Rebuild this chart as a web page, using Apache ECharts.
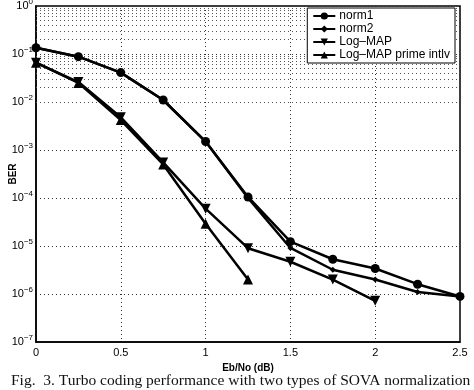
<!DOCTYPE html>
<html><head><meta charset="utf-8">
<script src="https://cdn.jsdelivr.net/npm/echarts@6/dist/echarts.min.js"></script>
<style>html,body{margin:0;padding:0;background:#fff;}#c{width:474px;height:390px;}</style>
</head><body><div id="c"></div>
<script>
const ebno = [0, 0.25, 0.5, 0.75, 1.0, 1.25, 1.5, 1.75, 2.0, 2.25, 2.5];
const norm1 = [0.135, 0.088, 0.041, 0.011, 0.0015, 1.05e-4, 1.23e-5, 5.3e-6, 3.4e-6, 1.6e-6, 8.9e-7];
const norm2 = [0.135, 0.088, 0.041, 0.011, 0.0015, 1.0e-4, 9.1e-6, 3.2e-6, 2.0e-6, 1.1e-6, 8.9e-7];
const logMapX = [0, 0.25, 0.5, 0.75, 1.0, 1.25, 1.5, 1.75, 2.0];
const logMap = [0.066, 0.026, 0.0048, 5.5e-4, 6e-5, 9e-6, 4.7e-6, 2.0e-6, 7.2e-7];
const primeX = [0, 0.25, 0.5, 0.75, 1.0, 1.25];
const logMapPrime = [0.066, 0.025, 0.0042, 5.0e-4, 2.9e-5, 2.0e-6];
const seriesNames = ['norm1', 'norm2', 'Log\u2013MAP', 'Log\u2013MAP prime intlv'];
const xTicks = [0, 0.5, 1, 1.5, 2, 2.5];
const caption = 'Fig.  3. Turbo coding performance with two types of SOVA normalization';

const minorVals = [];
for (let e = -7; e < 0; e++) for (let m = 2; m <= 9; m++) minorVals.push(m * Math.pow(10, e));

const pair = (xs, ys) => xs.map((x, i) => [x, ys[i]]);
const lineBase = { type: 'line', lineStyle: { color: '#000', width: 2.5 }, itemStyle: { color: '#000' }, z: 5 };
const chart = echarts.init(document.getElementById('c'));
chart.setOption({
  animation: false,
  backgroundColor: '#fff',
  textStyle: { fontFamily: 'Liberation Sans, Arial, sans-serif' },
  title: { text: caption, left: 6, top: 368, textStyle: { fontFamily: 'Liberation Serif', fontSize: 15.5, fontWeight: 'normal', color: '#111' } },
  grid: { left: 36, right: 14, top: 6, bottom: 48, show: true, borderColor: '#000', borderWidth: 1.5, outerBoundsMode: 'none', containLabel: false },
  legend: {
    right: 19, top: 8, orient: 'vertical', itemGap: 1, itemWidth: 22, itemHeight: 9, z: 20,
    backgroundColor: '#fff', borderColor: '#000', borderWidth: 1, padding: [2, 5, 2, 5],
    textStyle: { fontSize: 12, color: '#000', padding: [0, 0, 0, -1] },
    data: seriesNames
  },
  xAxis: {
    type: 'value', min: 0, max: 2.5, interval: 0.5,
    name: 'Eb/No (dB)', nameLocation: 'middle', nameGap: 21, nameMoveOverlap: false,
    nameTextStyle: { fontWeight: 'bold', fontSize: 10, color: '#000' },
    axisLine: { lineStyle: { color: '#000', width: 1.5 } },
    axisTick: { show: false },
    axisLabel: { color: '#000', fontSize: 11, margin: 5, formatter: v => String(v) },
    splitLine: { show: true, lineStyle: { color: '#333', type: [1, 3], width: 1 } }
  },
  yAxis: {
    type: 'log', logBase: 10, min: 1e-7, max: 1,
    name: 'BER', nameLocation: 'middle', nameGap: 18, nameRotate: 90, nameMoveOverlap: false,
    nameTextStyle: { fontWeight: 'bold', fontSize: 10, color: '#000' },
    axisLine: { lineStyle: { color: '#000', width: 1.5 } },
    axisTick: { show: false },
    axisLabel: {
      color: '#000', fontSize: 11, margin: 3,
      formatter: v => '10{s|' + (Math.round(Math.log10(v)) === 0 ? '0' : '\u2212' + (-Math.round(Math.log10(v)))) + '}',
      rich: { s: { fontSize: 8, padding: [0, 0, 8, 0] } }
    },
    splitLine: { show: true, lineStyle: { color: '#333', type: [1, 3], width: 1 } }
  },
  series: [
    {
      type: 'line', name: '_grid', silent: true, data: [], z: 1,
      markLine: {
        silent: true, symbol: 'none', label: { show: false }, z: 1,
        lineStyle: { color: '#555', type: [1, 3], width: 1 },
        data: minorVals.map(v => ({ yAxis: v }))
      }
    },
    Object.assign({}, lineBase, { name: seriesNames[0], data: pair(ebno, norm1), symbol: 'circle', symbolSize: 9 }),
    Object.assign({}, lineBase, { name: seriesNames[1], data: pair(ebno, norm2), symbol: 'diamond', symbolSize: 6 }),
    Object.assign({}, lineBase, { name: seriesNames[2], data: pair(logMapX, logMap), symbol: 'triangle', symbolRotate: 180, symbolSize: 10 }),
    Object.assign({}, lineBase, { name: seriesNames[3], data: pair(primeX, logMapPrime), symbol: 'triangle', symbolSize: 10 })
  ]
});
</script></body></html>
